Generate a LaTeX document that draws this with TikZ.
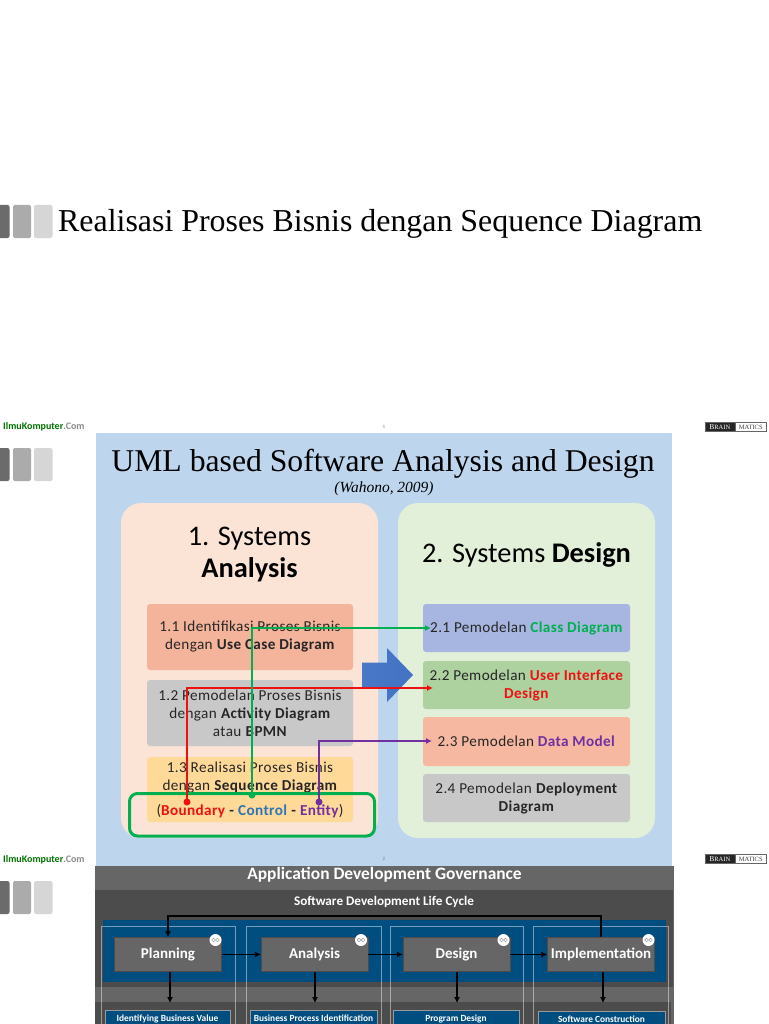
\documentclass[tikz,border=0pt]{standalone}
\usepackage{fontspec}
\setmainfont{Carlito}
\newfontfamily\serifface{Liberation Serif}
\usetikzlibrary{arrows.meta}
\definecolor{slideblue}{HTML}{BDD6EE}
\definecolor{panelsalmon}{HTML}{FBE4D5}
\definecolor{panelgreen}{HTML}{E2EFD9}
\definecolor{linegreen}{HTML}{00B050}
\definecolor{linered}{HTML}{EE1111}
\definecolor{linepurple}{HTML}{7030A0}
\definecolor{textblue}{HTML}{2E75B6}
\definecolor{navy}{HTML}{004D80}
\definecolor{boxsalmon}{HTML}{F4B39B}
\definecolor{boxgrey}{HTML}{C8C8C8}
\definecolor{boxamber}{HTML}{FFD998}
\definecolor{boxblue}{HTML}{A6B6E0}
\definecolor{boxgreen}{HTML}{AED1A0}
\definecolor{boxpeach}{HTML}{F6B8A0}
\definecolor{arrowleft}{HTML}{4A78C8}
\definecolor{arrowright}{HTML}{4472C4}
\tikzset{
	panel/.style={rounded corners=20pt, minimum width=257pt, minimum height=335pt, inner sep=0pt},
	lbox/.style={rounded corners=3pt, minimum width=206pt, inner sep=0pt, align=center,
		font=\fontsize{15.2}{18}\selectfont\addfontfeatures{LetterSpace=2.5}, text=black!85},
	phase/.style={draw=black!70, fill=black!60, minimum width=107pt, minimum height=34pt, inner sep=0pt,
		text=white, font=\fontsize{15}{18}\selectfont\bfseries},
	task/.style={fill=navy, draw=black!40, inner sep=0pt,
		text=white, font=\fontsize{9.4}{10}\selectfont\bfseries},
	column/.style={draw=white, draw opacity=0.45, line width=0.6pt},
	badge/.style={circle, fill=white, minimum size=12pt, inner sep=0pt,
		path picture={\draw[black!45, line width=0.4pt] (path picture bounding box.center) ++(-2,0) circle (1.8);
			\draw[black!45, line width=0.4pt] (path picture bounding box.center) ++(2,0) circle (1.8);}},
	flow/.style={-{Latex[length=6pt,width=6pt]}, line width=1.1pt, black},
	tag/.style={inner sep=0pt},
	srcdot/.style={circle, inner sep=0pt, minimum size=7pt},
	brainpart/.style={tag, draw=black!60, minimum height=9pt, font=\serifface\fontsize{7.5}{8}\selectfont},
	ilmu/.style={tag, anchor=west, font=\fontsize{10}{10}\selectfont\bfseries}
}
% three grey bars left of each slide title
\def\barblock(#1){
	\fill[black!58, rounded corners=2pt] (-6, #1) rectangle (9.5, #1+33);
	\fill[black!33, rounded corners=2pt] (13, #1) rectangle (31, #1+33);
	\fill[black!16, rounded corners=2pt] (34, #1) rectangle (52.5, #1+33);
}
\begin{document}
\begin{tikzpicture}[x=1pt, y=-1pt]
	%%%%% PAGE %%%%%
	\clip (0, 0) rectangle (768, 1024);
	\fill[white] (0, 0) rectangle (768, 1024);

	\barblock(205)
	\node[tag, anchor=west, font=\serifface\fontsize{31.9}{36}\selectfont] (firsttitle) at (58, 224) {Realisasi Proses Bisnis dengan Sequence Diagram};

	%%%%% SLIDE 2 %%%%%
	\node[ilmu] (ilmutop) at (3, 427) {\textcolor{green!45!black}{IlmuKomputer}\textcolor{black!45}{.Com}};
	\node[tag, text=black!50, font=\fontsize{5}{6}\selectfont] (pagenumone) at (384, 427) {1};
	\node[brainpart, fill=black!85, minimum width=30pt, text=white, anchor=east] (braintop) at (735, 427) {B\fontsize{6.5}{7}\selectfont RAIN};
	\node[brainpart, fill=white, minimum width=31pt, text=black!75, anchor=west, font=\serifface\fontsize{6.5}{7}\selectfont] (matictop) at (735, 427) {MATICS};
	\barblock(448)

	\fill[slideblue] (96, 433) rectangle (672, 866);
	\node[tag, font=\serifface\fontsize{31.7}{36}\selectfont] (umltitle) at (383, 464) {UML based Software Analysis and Design};
	\node[tag, font=\serifface\itshape\fontsize{15.5}{18}\selectfont] (wahono) at (384, 489) {(Wahono, 2009)};

	\node[panel, fill=panelsalmon] (analysispanel) at (249.5, 670.5) {};
	\node[panel, fill=panelgreen] (designpanel) at (526.5, 670.5) {};
	\node[tag, align=center, font=\fontsize{28.4}{32}\selectfont] (analysistitle) at (249.5, 555) {1. Systems\\\textbf{Analysis}};
	\node[tag, font=\fontsize{28.4}{32}\selectfont] (designtitle) at (526.5, 555) {2. Systems \textbf{Design}};

	\node[lbox, fill=boxsalmon, minimum height=66pt] (usecase) at (250, 637) {1.1 Identifikasi Proses Bisnis\\dengan \textbf{Use Case Diagram}};
	\node[lbox, fill=boxgrey, minimum height=66pt] (activity) at (250, 713) {1.2 Pemodelan Proses Bisnis\\dengan \textbf{Activity Diagram}\\atau \textbf{BPMN}};
	\node[lbox, fill=boxamber, minimum height=65pt] (sequence) at (250, 789.5) {1.3 Realisasi Proses Bisnis\\dengan \textbf{Sequence Diagram}\\[7pt](\textcolor{linered}{\textbf{Boundary}} \textbf{-} \textcolor{textblue}{\textbf{Control}} \textbf{-} \textcolor{linepurple}{\textbf{Entity}})};

	\node[lbox, fill=boxblue, minimum height=48pt, minimum width=207pt] (classdiag) at (526.5, 628) {2.1 Pemodelan \textcolor{linegreen}{\textbf{Class Diagram}}};
	\node[lbox, fill=boxgreen, minimum height=48pt, minimum width=207pt] (uidesign) at (526.5, 685) {2.2 Pemodelan \textcolor{linered}{\textbf{User Interface}}\\\textcolor{linered}{\textbf{Design}}};
	\node[lbox, fill=boxpeach, minimum height=49pt, minimum width=207pt] (datamodel) at (526.5, 741.5) {2.3 Pemodelan \textcolor{linepurple}{\textbf{Data Model}}};
	\node[lbox, fill=boxgrey, minimum height=48pt, minimum width=207pt] (deployment) at (526.5, 798) {2.4 Pemodelan \textbf{Deployment}\\\textbf{Diagram}};

	\shade[left color=arrowleft, right color=arrowright] (362, 662.5) -- (387, 662.5) -- (387, 648) -- (413, 675) -- (387, 702) -- (387, 687.5) -- (362, 687.5) -- cycle;

	\draw[linegreen, line width=3pt, rounded corners=8pt] (129.5, 793.5) rectangle (374.5, 836);

	\node[srcdot, fill=linered] (boundarydot) at (187, 802) {};
	\node[srcdot, fill=linegreen] (controldot) at (252, 795) {};
	\node[srcdot, fill=linepurple] (entitydot) at (319, 802) {};
	\coordinate (classend) at (431, 628);
	\coordinate (uiend) at (433, 688);
	\coordinate (dataend) at (432, 741);

	\draw[linered, line width=2.2pt, -{Latex[length=6pt,width=6pt]}] (boundarydot.center) |- (uiend);
	\draw[linegreen, line width=2.2pt, -{Latex[length=6pt,width=6pt]}] (controldot.center) |- (classend);
	\draw[linepurple, line width=1.5pt, -{Latex[length=6pt,width=6pt]}] (entitydot.center) |- (dataend);

	%%%%% SLIDE 3 %%%%%
	\node[ilmu] (ilmubot) at (3, 860) {\textcolor{green!45!black}{IlmuKomputer}\textcolor{black!45}{.Com}};
	\node[tag, text=black!50, font=\fontsize{5}{6}\selectfont] (pagenumtwo) at (384, 859) {2};
	\node[brainpart, fill=black!85, minimum width=30pt, text=white, anchor=east] (brainbot) at (735, 859) {B\fontsize{6.5}{7}\selectfont RAIN};
	\node[brainpart, fill=white, minimum width=31pt, text=black!75, anchor=west, font=\serifface\fontsize{6.5}{7}\selectfont] (maticbot) at (735, 859) {MATICS};
	\barblock(881)

	\fill[black!60] (95, 866) rectangle (674, 1024);
	\fill[black!70] (95, 890) rectangle (673, 987);
	\fill[navy] (103, 920) rectangle (666, 982);
	\fill[black!70] (95, 1002) rectangle (671, 1024);

	\node[tag, text=white, font=\fontsize{17.4}{20}\selectfont\bfseries] (govtitle) at (384.5, 875) {Application Development Governance};
	\node[tag, text=white, font=\fontsize{13.2}{15}\selectfont\bfseries] (sdlctitle) at (384, 902) {Software Development Life Cycle};

	\draw[column] (101.5, 926) rectangle (235, 1030);
	\draw[column] (246, 926) rectangle (381, 1030);
	\draw[column] (390, 926) rectangle (523.5, 1030);
	\draw[column] (533, 926) rectangle (668, 1030);

	\node[phase] (planning) at (168, 954.5) {Planning};
	\node[phase] (analysis) at (314.5, 954.5) {Analysis};
	\node[phase] (design) at (456.5, 954.5) {Design};
	\node[phase] (implementation) at (601, 954.5) {Implementation};

	\node[badge] (badgeplan) at (215.5, 940) {};
	\node[badge] (badgeanalysis) at (361, 940) {};
	\node[badge] (badgedesign) at (503.5, 940) {};
	\node[badge] (badgeimpl) at (648.5, 940) {};

	\draw[flow] (planning) -- (analysis);
	\draw[flow] (analysis) -- (design);
	\draw[flow] (design) -- (implementation);
	\coordinate (loopright) at (601, 916);
	\coordinate (loopleft) at (168, 916);
	\draw[flow] (implementation.north) -- (loopright) -- (loopleft) -- (planning.north);

	\node[task, minimum width=125pt, minimum height=17pt] (bizvalue) at (167.5, 1018.5) {Identifying Business Value};
	\node[task, minimum width=127pt, minimum height=17pt] (bizproc) at (313.5, 1018.5) {Business Process Identification};
	\node[task, minimum width=126pt, minimum height=17pt] (progdesign) at (456, 1018.5) {Program Design};
	\node[task, minimum width=127pt, minimum height=15pt] (construct) at (601.5, 1019) {Software Construction};

	\coordinate (endone) at (170, 1003);
	\coordinate (endtwo) at (315, 1003);
	\coordinate (endthree) at (457, 1003);
	\coordinate (endfour) at (603, 1003);
	\draw[flow] (planning.south -| endone) -- (endone);
	\draw[flow] (analysis.south -| endtwo) -- (endtwo);
	\draw[flow] (design.south -| endthree) -- (endthree);
	\draw[flow] (implementation.south -| endfour) -- (endfour);
	%%%%% END %%%%%
\end{tikzpicture}
\end{document}
